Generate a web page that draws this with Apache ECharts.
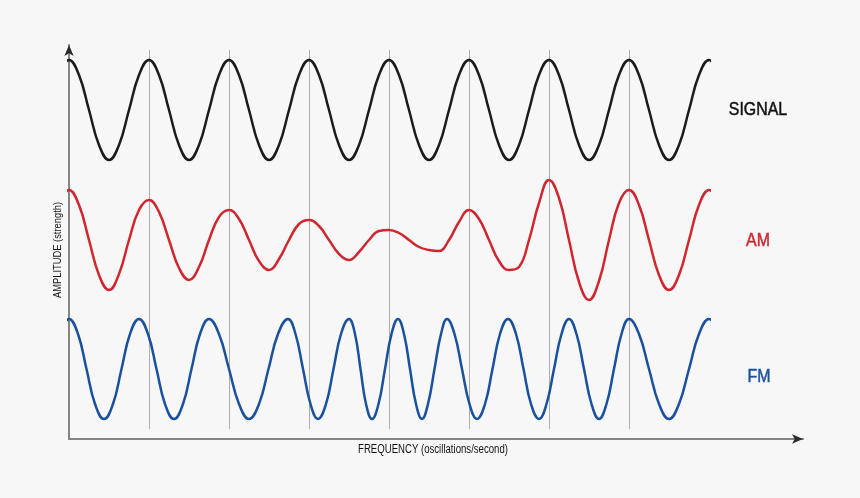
<!DOCTYPE html>
<html>
<head>
<meta charset="utf-8">
<script src="https://cdn.jsdelivr.net/npm/echarts@6/dist/echarts.min.js"></script>
<style>
  html, body { margin: 0; padding: 0; background: #f7f7f7; }
  #chart { width: 860px; height: 498px; }
</style>
</head>
<body>
<div id="chart"></div>
<script>
// Sample positions (time units) shared by SIGNAL and AM; the first and last samples lie outside the plotted span and are clipped
const sampleX = [-10,0,10,20,30,40,50,60,70,80,90,100,110,120,130,140,150,160,170,180,190,200,210,220,230,240,250,260,270,280,290,300,310,320,330,340,350,360,370,380,390,400,410,420,430,440,450,460,470,480,490,500,510,520,530,540,550,560,570,580,590,600,610,620,630,640,650];

// SIGNAL: constant amplitude carrier
const signalY = [364, 379,
  364,329,294,279, 294,329,364,379,
  364,329,294,279, 294,329,364,379,
  364,329,294,279, 294,329,364,379,
  364,329,294,279, 294,329,364,379,
  364,329,294,279, 294,329,364,379,
  364,329,294,279, 294,329,364,379,
  364,329,294,279, 294,329,364,379,
  364,329,294,279, 294,329,364,379, 364];

// AM: amplitude-modulated wave
const amY = [234, 249,
  234,199,164,149,
  165,199,229,239,
  227,199,171,159,
  172,199,222,229,
  220,199,178,169,
  180,199,215,219,
  213,199,185,179,
  187,199,208,209,
  206,199,192,189,
  188,199,217,229,
  220,199,178,169,
  172,199,236,259,
  241,199,157,139,
  158,199,236,249,
  234,199,164,149,
  164,199,234,249, 234];

// FM: frequency-modulated wave (uneven spacing)
const fmX = [-9, 0,
  9,17.5,26,35, 44,52.5,61,70, 79,87.5,96,105, 114,122.5,131,140,
  150,160,170,180, 190,199.5,209,219, 226.5,234,241.5,249, 257,264.5,272,280,
  286,291.5,297,303, 309.5,316,322.5,329, 335,341,347,353, 359,365.5,372,378,
  385.5,393,400.5,408, 416,423.5,431,439, 447,454.5,462,470, 477.5,485,492.5,500,
  507.5,515,522.5,530, 537.5,545,552.5,560, 570,580,590,600, 610,620,630,640, 650];
const fmY = [105, 120,
  105,70,35,20, 35,70,105,120,
  105,70,35,20, 35,70,105,120,
  105,70,35,20, 35,70,105,120,
  105,70,35,20, 35,70,105,120,
  105,70,35,20, 35,70,105,120,
  105,70,35,20, 35,70,105,120,
  105,70,35,20, 35,70,105,120,
  105,70,35,20, 35,70,105,120,
  105,70,35,20, 35,70,105,120,
  105,70,35,20, 35,70,105,120, 105];

const seriesNames = ['SIGNAL', 'AM', 'FM'];
const seriesColors = ['#1c1c1c', '#d0262f', '#1a519f'];
const xAxisName = 'FREQUENCY (oscillations/second)';
const yAxisName = 'AMPLITUDE (strength)';

const zip = (xs, ys) => xs.map((x, i) => [x, ys[i]]);
const fam = "'Liberation Sans', Arial, sans-serif";

const chart = echarts.init(document.getElementById('chart'), null, { renderer: 'canvas' });

const lineSeries = (name, data, color) => ({
  name, type: 'line', xAxisIndex: 3, yAxisIndex: 3,
  data, smooth: 0.45, showSymbol: false, symbol: 'none', clip: true,
  lineStyle: { color, width: 2.5 }, z: 5, silent: true
});

const hiddenParts = { axisTick: { show: false }, axisLabel: { show: false }, splitLine: { show: false } };

const labelStyle = (text, color, size) => ({
  text, font: size + 'px ' + fam, fill: color, stroke: color, lineWidth: 0.5,
  align: 'center', verticalAlign: 'middle'
});

chart.setOption({
  backgroundColor: '#f7f7f7',
  animation: false,
  grid: [
    { left: 69, right: 57, top: 45, bottom: 59 },
    { left: 69, width: 560, top: 50, bottom: 69 },
    { left: 69, width: 640, top: 45, bottom: 59 }
  ],
  xAxis: [
    Object.assign({ type: 'value', gridIndex: 0, min: 0, max: 734, position: 'bottom',
      axisLine: { show: true, lineStyle: { color: '#858585', width: 2 } } }, hiddenParts),
    { type: 'value', gridIndex: 1, min: 0, max: 560, interval: 80,
      axisLine: { show: false }, axisTick: { show: false }, axisLabel: { show: false },
      splitLine: { show: true, lineStyle: { color: '#acacac', width: 1 } } },
    // arrowhead only (line width 0), dark
    Object.assign({ type: 'value', gridIndex: 0, min: 0, max: 1, position: 'bottom', offset: 0,
      axisLine: { show: true, lineStyle: { color: '#2b2b2b', width: 0 }, symbol: ['none', 'arrow'], symbolSize: [7, 11] } }, hiddenParts),
    // plotting axis for the waves (span 0..640)
    { type: 'value', gridIndex: 2, min: 0, max: 640, show: false, splitLine: { show: false } }
  ],
  yAxis: [
    Object.assign({ type: 'value', gridIndex: 0, min: 0, max: 394, position: 'left',
      axisLine: { show: true, lineStyle: { color: '#858585', width: 2 } } }, hiddenParts),
    { type: 'value', gridIndex: 1, min: 0, max: 1, show: false, splitLine: { show: false } },
    Object.assign({ type: 'value', gridIndex: 0, min: 0, max: 1, position: 'left', offset: 0,
      axisLine: { show: true, lineStyle: { color: '#2b2b2b', width: 0 }, symbol: ['none', 'arrow'], symbolSize: [7, 11] } }, hiddenParts),
    { type: 'value', gridIndex: 2, min: 0, max: 394, show: false, splitLine: { show: false } }
  ],
  graphic: [
    { type: 'text', x: 433, y: 450, scaleX: 0.8,
      style: { text: xAxisName, font: '12px ' + fam, fill: '#111', align: 'center', verticalAlign: 'middle' } },
    { type: 'text', x: 58, y: 250, rotation: Math.PI / 2, scaleX: 0.85,
      style: { text: yAxisName, font: '11px ' + fam, fill: '#111', align: 'center', verticalAlign: 'middle' } },
    { type: 'text', x: 758, y: 110, scaleX: 0.86, style: labelStyle(seriesNames[0], '#111', 18.5) },
    { type: 'text', x: 758, y: 241, scaleX: 0.86, style: labelStyle(seriesNames[1], seriesColors[1], 18.5) },
    { type: 'text', x: 759, y: 377, scaleX: 0.86, style: labelStyle(seriesNames[2], seriesColors[2], 18.5) }
  ],
  series: [
    lineSeries(seriesNames[0], zip(sampleX, signalY), seriesColors[0]),
    lineSeries(seriesNames[1], zip(sampleX, amY), seriesColors[1]),
    lineSeries(seriesNames[2], zip(fmX, fmY), seriesColors[2])
  ]
});
</script>
</body>
</html>
